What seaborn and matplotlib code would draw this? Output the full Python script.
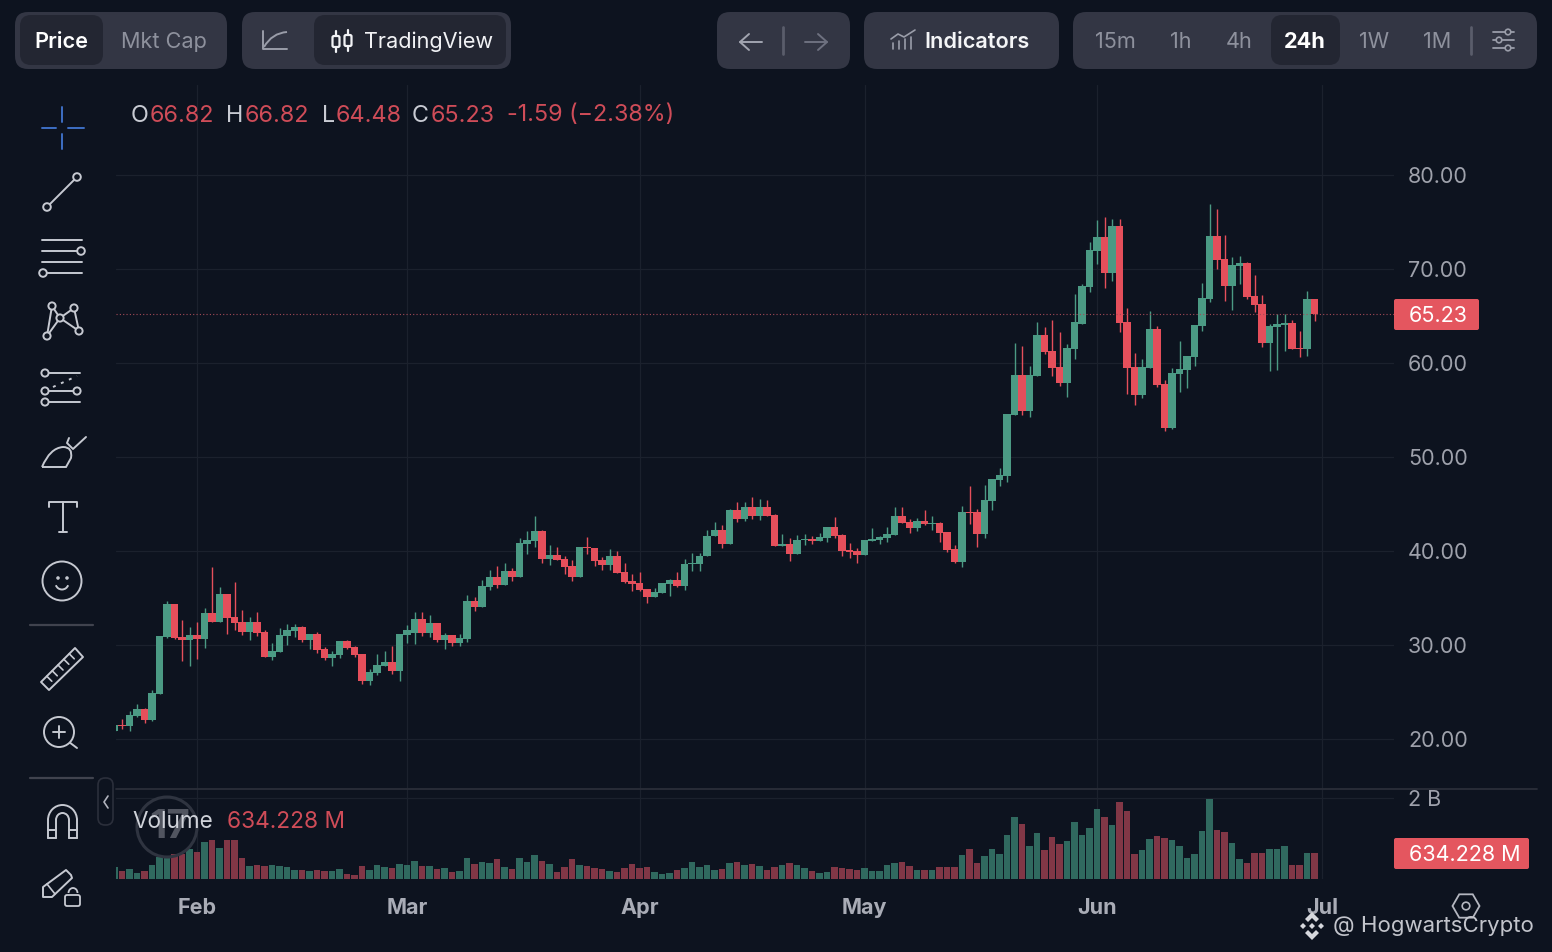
import matplotlib
matplotlib.use("Agg")
import numpy as np
import pandas as pd
import seaborn as sns
import matplotlib.dates as mdates
from matplotlib import pyplot as plt
from matplotlib.patches import Circle, FancyBboxPatch, Polygon, Arc, PathPatch
from matplotlib.path import Path

first_day = "2023-01-21"

opens = [20.85, 21.47, 21.42, 22.48, 23.19, 22.02, 24.82, 30.82, 34.36, 30.85,
         30.53, 31.06, 30.64, 33.37, 32.45, 35.43, 32.98, 32.45, 31.38, 32.45,
         31.38, 28.72, 29.26, 30.96, 31.49, 31.91, 30.53, 31.17, 29.57, 28.62,
         28.94, 30.43, 29.79, 29.04, 26.17, 27.02, 27.77, 28.19, 27.23, 31.06,
         31.24, 32.77, 31.24, 32.30, 30.53, 31.06, 30.21, 30.64, 34.68, 34.04,
         36.17, 37.23, 36.38, 37.87, 37.23, 40.74, 41.06, 42.13, 39.15, 39.57,
         39.15, 38.40, 37.23, 40.43, 40.32, 39.04, 38.51, 39.47, 37.77, 36.81,
         36.60, 35.96, 35.11, 35.53, 36.49, 36.91, 36.28, 38.62, 38.65, 39.43,
         41.63, 42.27, 40.78, 44.40, 43.44, 44.72, 43.76, 44.72, 43.87, 40.57,
         40.78, 39.72, 41.21, 41.31, 41.10, 41.42, 42.59, 41.74, 40.14, 40.04,
         39.61, 41.10, 41.21, 41.42, 41.74, 43.76, 43.12, 42.48, 43.23, 42.91,
         43.01, 42.06, 40.25, 38.87, 44.18, 44.18, 41.84, 45.35, 47.59, 48.01,
         54.50, 58.76, 54.93, 58.65, 63.01, 61.31, 59.61, 57.91, 61.52, 64.18,
         68.12, 71.95, 73.44, 69.61, 74.61, 64.40, 59.61, 56.63, 59.50, 63.65,
         57.80, 53.12, 58.87, 59.29, 60.67, 63.97, 66.84, 73.55, 71.10, 68.23,
         70.35, 70.67, 67.16, 66.31, 62.16, 63.87, 64.08, 64.29, 61.63, 61.52,
         66.82]
highs = [21.50, 22.16, 22.98, 23.72, 23.30, 25.18, 31.00, 34.68, 34.40, 32.70,
         31.91, 32.41, 33.90, 38.26, 36.17, 35.43, 36.70, 33.72, 32.98, 33.51,
         31.60, 30.21, 31.81, 32.23, 32.23, 32.02, 31.17, 31.38, 29.79, 29.36,
         30.43, 30.53, 29.89, 29.04, 27.45, 29.04, 29.36, 29.89, 31.17, 32.13,
         33.51, 33.51, 33.19, 32.30, 31.24, 31.06, 31.17, 35.32, 35.11, 36.91,
         37.98, 38.40, 38.72, 38.19, 41.38, 42.13, 43.72, 42.23, 40.64, 40.43,
         39.47, 39.04, 40.43, 41.49, 40.32, 39.36, 40.21, 40.00, 38.72, 37.55,
         37.77, 35.96, 36.06, 36.60, 37.02, 37.77, 39.15, 39.79, 39.82, 42.27,
         43.12, 42.80, 44.50, 45.25, 45.25, 45.78, 45.57, 45.46, 43.97, 41.84,
         41.42, 41.74, 41.84, 41.63, 41.95, 42.59, 43.65, 41.84, 40.89, 40.35,
         41.21, 42.48, 41.63, 42.59, 44.72, 44.72, 43.44, 43.55, 44.40, 43.76,
         43.12, 42.06, 40.67, 44.82, 46.95, 44.50, 47.06, 47.70, 48.87, 54.60,
         62.16, 61.84, 59.72, 64.40, 63.87, 64.61, 63.33, 62.06, 67.38, 68.44,
         72.91, 75.25, 75.57, 75.35, 75.35, 65.89, 61.06, 60.46, 65.57, 63.97,
         58.23, 59.50, 62.38, 60.78, 64.08, 68.55, 76.95, 76.42, 73.65, 71.31,
         71.42, 70.78, 69.40, 67.27, 64.18, 65.25, 65.25, 64.61, 63.44, 67.70,
         66.82]
lows = [20.85, 21.10, 20.89, 22.38, 21.67, 21.88, 24.82, 30.74, 30.60, 28.30,
        27.80, 28.48, 29.72, 32.45, 32.45, 31.17, 31.60, 31.06, 30.53, 30.96,
        28.72, 28.40, 29.26, 30.00, 30.85, 30.32, 29.57, 29.15, 28.40, 27.77,
        28.62, 29.57, 28.72, 25.85, 25.74, 26.81, 27.77, 26.91, 26.17, 30.21,
        30.11, 30.96, 30.85, 30.32, 29.57, 29.89, 29.89, 30.32, 33.62, 34.04,
        35.85, 36.06, 36.38, 36.81, 37.23, 39.68, 40.43, 38.72, 38.51, 39.04,
        37.55, 36.81, 37.23, 39.68, 38.40, 37.98, 37.98, 37.66, 36.60, 35.74,
        35.74, 34.47, 35.11, 35.53, 35.21, 36.17, 35.85, 37.87, 37.91, 39.43,
        41.63, 40.35, 40.78, 43.12, 43.23, 43.44, 43.33, 43.76, 40.57, 40.57,
        38.97, 39.72, 40.67, 40.78, 41.10, 40.99, 41.42, 39.50, 39.29, 38.76,
        39.61, 41.10, 40.78, 40.99, 41.74, 43.01, 41.95, 42.16, 42.80, 42.27,
        40.99, 39.93, 38.76, 38.33, 42.91, 40.46, 41.42, 44.40, 46.95, 47.38,
        54.50, 54.50, 54.29, 58.65, 61.00, 58.65, 57.59, 56.42, 60.46, 64.18,
        67.59, 70.57, 68.01, 68.76, 63.33, 56.74, 55.57, 56.31, 59.50, 57.48,
        52.80, 53.01, 56.95, 57.38, 59.72, 63.44, 66.52, 70.04, 66.63, 65.67,
        68.44, 66.84, 65.46, 61.74, 59.18, 59.29, 61.31, 61.52, 60.67, 60.78,
        64.48]
closes = [21.45, 21.40, 22.55, 23.19, 22.02, 24.89, 30.96, 34.36, 30.74, 30.53,
          31.06, 30.64, 33.37, 32.45, 35.43, 32.87, 32.34, 31.38, 32.45, 31.28,
          28.72, 29.36, 31.06, 31.60, 31.91, 30.53, 31.17, 29.47, 28.62, 29.04,
          30.43, 29.68, 28.94, 26.17, 27.13, 27.87, 28.19, 27.23, 31.17, 31.60,
          32.77, 31.24, 32.30, 30.53, 31.06, 30.21, 30.74, 34.68, 34.04, 36.28,
          37.23, 36.38, 37.87, 37.23, 40.85, 41.17, 42.13, 39.15, 39.57, 39.04,
          38.30, 37.23, 40.43, 40.32, 38.94, 38.51, 39.47, 37.66, 36.70, 36.49,
          35.85, 35.11, 35.64, 36.60, 36.91, 36.28, 38.62, 38.72, 39.50, 41.63,
          42.27, 40.78, 44.40, 43.44, 44.72, 43.76, 44.72, 43.76, 40.57, 40.78,
          39.72, 41.21, 41.31, 41.10, 41.52, 42.59, 41.63, 40.04, 39.93, 39.61,
          41.21, 41.31, 41.52, 41.84, 43.76, 43.01, 42.48, 43.23, 42.91, 43.01,
          41.95, 40.14, 38.87, 44.18, 44.08, 41.84, 45.46, 47.70, 48.12, 54.60,
          58.76, 54.93, 58.76, 63.01, 61.21, 59.50, 57.91, 61.63, 64.40, 68.23,
          72.06, 73.44, 69.61, 74.61, 64.29, 59.50, 56.63, 59.61, 63.65, 57.70,
          53.12, 58.97, 59.40, 60.78, 64.08, 66.95, 73.55, 70.99, 68.23, 70.46,
          70.67, 67.06, 66.21, 62.16, 63.97, 64.18, 64.29, 61.52, 61.52, 66.84,
          65.23]
# volume in millions
volumes = [288, 198, 247, 148, 198, 346, 543, 543, 617, 617,
           741, 667, 914, 963, 765, 963, 963, 518, 321, 346,
           321, 346, 321, 296, 222, 222, 198, 222, 198, 198,
           247, 123, 99, 321, 222, 346, 296, 272, 370, 346,
           444, 321, 321, 247, 272, 173, 198, 518, 370, 420,
           395, 494, 296, 247, 518, 420, 593, 444, 370, 173,
           296, 494, 346, 321, 272, 247, 198, 173, 272, 370,
           272, 296, 173, 123, 148, 222, 272, 420, 296, 346,
           222, 247, 395, 420, 346, 370, 321, 222, 296, 346,
           395, 346, 272, 198, 148, 173, 296, 272, 247, 222,
           272, 198, 198, 346, 395, 420, 321, 222, 222, 222,
           296, 296, 296, 593, 741, 395, 568, 741, 617, 1086,
           1531, 1358, 815, 1136, 716, 1037, 864, 938, 1407, 1086,
           1259, 1728, 1531, 1333, 1901, 1679, 617, 716, 988, 1062,
           1012, 963, 815, 518, 617, 1185, 1975, 1210, 1160, 889,
           494, 395, 642, 642, 741, 741, 815, 346, 346, 642,
           634.228]
price_ticks = [20, 30, 40, 50, 60, 70, 80]
volume_ticks = [2000]
volume_tick_labels = ["2 B"]
last_volume_label = "634.228 M"
top_left_tabs = ["Price", "Mkt Cap"]
interval_tabs = ["15m", "1h", "4h", "24h", "1W", "1M"]

W, H = 1552, 952
BG = "#0D131F"
GRID = "#1B212D"
UP = "#4B9A84"
DOWN = "#E54F5B"
UP_VOL = "#30695F"
DOWN_VOL = "#813746"
PANEL = "#333644"
INNER = "#232632"
MUTED = "#8E919D"
ICON = "#C6C9D1"
TEXT_RED = "#CF4C58"

sns.set_theme(style="dark", rc={
    "figure.facecolor": BG,
    "axes.facecolor": BG,
    "savefig.facecolor": BG,
    "axes.edgecolor": BG,
    "grid.color": GRID,
    "grid.linewidth": 0.9,
    "axes.grid": True,
})
plt.rcParams["font.family"] = ["Inter", "DejaVu Sans"]


def box_axes(fig, left, top, right, bottom, **kwargs):
    return fig.add_axes([left / W, 1 - bottom / H, (right - left) / W, (bottom - top) / H], **kwargs)


candles = pd.DataFrame({"open": opens, "high": highs, "low": lows, "close": closes, "volume": volumes})
candles["day"] = mdates.date2num(pd.date_range(first_day, periods=len(candles)))
candles["direction"] = np.where(candles["close"] >= candles["open"], "up", "down")
colors = candles["direction"].map({"up": UP, "down": DOWN})

fig = plt.figure(figsize=(W / 100, H / 100), dpi=100)
ax_price = box_axes(fig, 116, 85, 1394, 789)
ax_vol = box_axes(fig, 116, 789, 1394, 879)

# candles
ax_price.vlines(candles["day"], candles["low"], candles["high"], colors=colors, linewidth=1.0, zorder=3)
ax_price.bar(candles["day"], (candles["close"] - candles["open"]).abs(),
             bottom=candles[["open", "close"]].min(axis=1), width=0.95, color=colors, linewidth=0, zorder=4)
ax_price.axhline(closes[-1], color="#A54A57", linewidth=0.8, linestyle=(0, (1, 2)), zorder=5)

# volume
sns.barplot(data=candles, x="day", y="volume", hue="direction", hue_order=["up", "down"],
            palette={"up": UP_VOL, "down": DOWN_VOL}, native_scale=True, dodge=False, width=0.82,
            errorbar=None, saturation=1, linewidth=0, legend=False, ax=ax_vol, zorder=3)

x_left = candles["day"].iloc[0] + 0.2
x_right = candles["day"].iloc[0] + 170.6
for ax in (ax_price, ax_vol):
    ax.set_xlim(x_left, x_right)
    ax.xaxis.set_major_locator(mdates.MonthLocator())
    ax.xaxis.set_major_formatter(mdates.DateFormatter("%b"))
    ax.grid(True, color=GRID, linewidth=0.9)
    ax.set_axisbelow(True)
    ax.set_xlabel("")
    ax.set_ylabel("")
    ax.yaxis.tick_right()
    ax.tick_params(axis="y", length=0, pad=10, labelsize=15.5, labelcolor="#9EA1AB")
    ax.tick_params(axis="x", length=0)
    for spine in ax.spines.values():
        spine.set_visible(False)

ax_price.set_ylim(14.68, 89.57)
ax_price.set_yticks(price_ticks)
ax_price.set_yticklabels([f"{t:.2f}" for t in price_ticks])
ax_price.tick_params(axis="x", labelbottom=False)

ax_vol.set_ylim(0, 2222)
ax_vol.set_yticks(volume_ticks)
ax_vol.set_yticklabels(volume_tick_labels)
ax_vol.tick_params(axis="x", pad=14, labelsize=15.5, labelcolor="#A9ACB6")
for label in ax_vol.get_xticklabels():
    label.set_fontweight("bold")

# everything around the plot is drawn in pixel coordinates
ui = fig.add_axes([0, 0, 1, 1], zorder=10)
ui.set_xlim(0, W)
ui.set_ylim(H, 0)
ui.axis("off")
ui.patch.set_alpha(0)


def rbox(x0, y0, x1, y1, color, r=10, edge="none", lw=0, z=2):
    ui.add_patch(FancyBboxPatch((x0 + r, y0 + r), x1 - x0 - 2 * r, y1 - y0 - 2 * r,
                                boxstyle=f"round,pad={r},rounding_size={r}",
                                facecolor=color, edgecolor=edge, linewidth=lw, zorder=z))


def label(x, y, s, color="#FFFFFF", size=15.6, weight="normal", ha="center", z=5, **kw):
    return ui.text(x, y + 1.5, s, color=color, fontsize=size, fontweight=weight, ha=ha, va="center", zorder=z, **kw)


def seg(points, color=ICON, lw=1.4, z=5, **kw):
    xs, ys = zip(*points)
    ui.plot(xs, ys, color=color, linewidth=lw, zorder=z, solid_capstyle="round", **kw)


def ring(x, y, r, color=ICON, lw=1.4, z=6, face=BG):
    ui.add_patch(Circle((x, y), r, facecolor=face, edgecolor=color, linewidth=lw, zorder=z))


# toolbar
rbox(15, 12, 227, 69, PANEL, r=13)
rbox(20, 15, 103, 65, INNER, r=11, z=3)
rbox(242, 12, 511, 69, PANEL, r=13)
rbox(314, 15, 506, 65, INNER, r=11, z=3)
rbox(717, 12, 850, 69, PANEL, r=13)
rbox(864, 12, 1059, 69, PANEL, r=13)
rbox(1073, 12, 1537, 69, PANEL, r=13)
rbox(1271, 15, 1340, 65, INNER, r=11, z=3)

label(61, 40, top_left_tabs[0], weight="semibold")
label(164, 40, top_left_tabs[1], color=MUTED)
label(429, 40, "TradingView", color="#F1F2F5")
label(977, 40, "Indicators", color="#F4F5F7", weight="semibold")
for cx, tab in zip([1115, 1181, 1239, 1305, 1374, 1437], interval_tabs):
    if tab == "24h":
        label(cx, 40, tab, weight="bold")
    else:
        label(cx, 40, tab, color=MUTED)

# line chart icon
seg([(263, 31), (263, 49), (287, 49)], color="#9A9DA9")
ui.add_patch(PathPatch(Path([(264, 47), (272, 33), (287, 32)], [Path.MOVETO, Path.CURVE3, Path.CURVE3]),
                       facecolor="none", edgecolor="#9A9DA9", linewidth=1.4, zorder=5))
# candle icon
for cx, y0, y1 in [(336, 31, 52), (348, 30, 51)]:
    seg([(cx, y0), (cx, y1)], color="#F1F2F5", lw=1.6)
    rbox(cx - 3.5, y0 + 5, cx + 3.5, y1 - 5, INNER, r=1.5, edge="#F1F2F5", lw=1.6, z=6)
# arrows
seg([(740, 42), (762, 42)], color="#A2A5B0")
seg([(749, 34), (740, 42), (749, 50)], color="#A2A5B0")
seg([(805, 42), (827, 42)], color="#6E7180")
seg([(818, 34), (827, 42), (818, 50)], color="#6E7180")
seg([(783, 27), (783, 54)], color="#5A5D6B", lw=2)
# indicators icon
for bx, bt in [(893, 43), (899, 41), (905, 39), (911, 37)]:
    seg([(bx, 49), (bx, bt)], color="#9A9DA9", lw=1.2)
seg([(891, 39), (898, 34), (904, 37), (915, 30)], color="#9A9DA9", lw=1.2)
# settings icon
seg([(1471, 27), (1471, 54)], color="#5A5D6B", lw=2)
for sy, sx in [(32, 1508), (40, 1499), (48, 1508)]:
    seg([(1493, sy), (1514, sy)], color="#9A9DA9", lw=1.3)
    ring(sx, sy, 2.8, color="#9A9DA9", lw=1.2, face=PANEL)

# OHLC legend
for x, s in [(131, "O"), (226, "H"), (322, "L"), (412, "C")]:
    label(x, 114, s, color="#C8CBD3", size=16.8, ha="left")
for x, s in [(150, "66.82"), (245, "66.82"), (336, "64.48"), (431, "65.23"), (507, "-1.59 (\u22122.38%)")]:
    label(x, 114, s, color=TEXT_RED, size=16.8, ha="left")

# left toolbar
blue = "#3E6FC4"
seg([(62, 107), (62, 122)], color=blue)
seg([(62, 134), (62, 149)], color=blue)
seg([(42, 128), (56, 128)], color=blue)
seg([(68, 128), (84, 128)], color=blue)

seg([(47, 207), (77, 177)])
ring(47, 207, 3.8)
ring(77, 177, 3.8)

for ly in [240, 251, 262, 273]:
    seg([(42, ly), (82, ly)])
ring(81, 251, 3.8)
ring(43, 273, 3.8)

pts = {"a": (52, 306), "b": (74, 308), "c": (60, 318), "d": (47, 336), "e": (79, 331)}
for p, q in ["ad", "ac", "cd", "cb", "be", "ce"]:
    seg([pts[p], pts[q]])
for p in pts.values():
    ring(p[0], p[1], 3.6)

seg([(45, 373), (80, 373)])
seg([(45, 391), (77, 391)])
seg([(45, 402), (80, 402)])
seg([(53, 387), (77, 376)], linestyle=(0, (1.5, 3)))
for px, py in [(45, 373), (45, 391), (77, 391), (45, 402)]:
    ring(px, py, 3.6)

brush = Path([(42, 467), (50, 448), (63, 447), (73, 447), (71, 458), (66, 467), (42, 467)],
             [Path.MOVETO, Path.CURVE3, Path.CURVE3, Path.CURVE3, Path.CURVE3, Path.LINETO, Path.LINETO])
ui.add_patch(PathPatch(brush, facecolor="none", edgecolor=ICON, linewidth=1.4, zorder=5))
seg([(69, 438), (67, 443), (73, 449), (86, 437)])

seg([(49, 507), (49, 502), (77, 502), (77, 507)])
seg([(63, 502), (63, 532)])
seg([(59, 532), (67, 532)])

ring(62, 581, 19.5)
ring(58, 578, 0.8, face=ICON)
ring(67, 578, 0.8, face=ICON)
ui.add_patch(Arc((62, 583), 13, 13, theta1=20, theta2=160, edgecolor=ICON, linewidth=1.4, zorder=7))

seg([(30, 625), (93, 625)], color="#40434E", lw=1.6)
seg([(30, 778), (93, 778)], color="#40434E", lw=1.6)

ui.add_patch(Polygon([(41, 682), (49, 690), (83, 657), (75, 648)], closed=True, facecolor="none",
                     edgecolor=ICON, linewidth=1.4, joinstyle="round", zorder=5))
for t in [0.17, 0.33, 0.5, 0.67, 0.83]:
    tx, ty = 41 + 34 * t, 682 - 34 * t
    seg([(tx, ty), (tx + 5, ty + 5)], lw=1.2)

ring(59, 732, 15)
seg([(53, 732), (65, 732)], z=7)
seg([(59, 726), (59, 738)], z=7)
seg([(69, 742), (77, 748)])

rbox(98, 778, 113, 825, "none", r=7, edge="#2B2F3B", lw=1.2, z=4)
seg([(108, 796), (104, 802), (108, 808)], color="#B0B3BD", lw=1.2)

magnet = [(48, 838), (48, 820)]
ui.add_patch(Arc((62.5, 820), 29, 30, theta1=180, theta2=360, edgecolor=ICON, linewidth=1.4, zorder=5))
ui.add_patch(Arc((62.5, 820), 13, 14, theta1=180, theta2=360, edgecolor=ICON, linewidth=1.4, zorder=5))
seg(magnet)
seg([(77, 838), (77, 820)])
seg([(56, 838), (56, 820)])
seg([(69, 838), (69, 820)])
seg([(48, 838), (56, 838)])
seg([(69, 838), (77, 838)])
seg([(48, 830), (56, 830)])
seg([(69, 830), (77, 830)])

ui.add_patch(Polygon([(43, 897), (43, 887), (66, 870), (71, 875), (72, 878), (52, 897)], closed=True,
                     facecolor="none", edgecolor=ICON, linewidth=1.4, joinstyle="round", zorder=5))
seg([(47, 884), (55, 894)], lw=1.2)
rbox(65, 895, 80, 906, BG, r=2, edge=ICON, lw=1.3, z=6)
ui.add_patch(Arc((73, 893), 9, 10, theta1=180, theta2=360, edgecolor=ICON, linewidth=1.3, zorder=6))

# logo and volume legend
ui.add_patch(Circle((167, 827), 30, facecolor="none", edgecolor="#2F3440", linewidth=2.2, zorder=4))
label(170, 826, "17", color="#6F727C", size=29, weight="bold", alpha=0.7, z=4)
label(132, 820, "Volume", color="#CFD2D9", size=16.2, ha="left", z=6)
label(227, 820, last_volume_label, color=TEXT_RED, size=16.3, ha="left", z=6)

# price tags
rbox(1394, 299, 1479, 330, "#E4565F", r=2)
label(1409, 314.5, f"{closes[-1]:.2f}", size=15.5, ha="left")
rbox(1394, 838, 1529, 869, "#E4565F", r=2)
label(1409, 853.5, last_volume_label, size=15.5, ha="left")

# panel separator
seg([(116, 789), (1537, 789)], color="#2A2E39", lw=1.3, z=3)

# settings hexagon
hexagon = [(1466 + 13.5 * np.cos(a), 906 + 13.5 * np.sin(a)) for a in np.radians(range(0, 360, 60))]
ui.add_patch(Polygon(hexagon, closed=True, facecolor="none", edgecolor="#B4B7C0", linewidth=1.3, zorder=5))
ring(1466, 906, 3.8, color="#B4B7C0", lw=1.2)

# watermark
mark = "#D6D8DD"
for cx, cy, r in [(1312, 926, 3), (1303, 926, 3), (1321, 926, 3)]:
    ui.add_patch(Polygon([(cx - r, cy), (cx, cy - r), (cx + r, cy), (cx, cy + r)], closed=True,
                         facecolor=mark, edgecolor="none", zorder=8))
for sign in (-1, 1):
    ui.add_patch(Polygon([(1305, 926 + sign * 7), (1312, 926 + sign * 14), (1319, 926 + sign * 7),
                          (1316, 926 + sign * 4), (1312, 926 + sign * 8), (1308, 926 + sign * 4)],
                         closed=True, facecolor=mark, edgecolor="none", zorder=8))
label(1333, 925, "@ HogwartsCrypto", color="#C2C4CB", size=16, ha="left", z=8)

fig.savefig("out.png", dpi=100)
